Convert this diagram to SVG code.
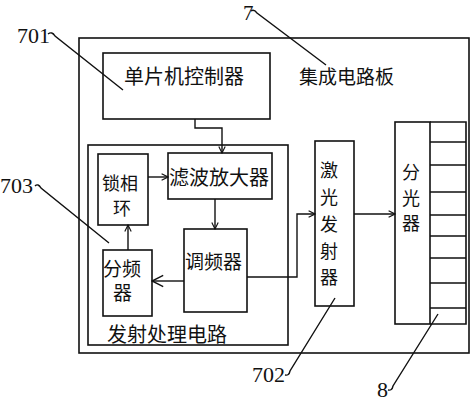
<svg xmlns="http://www.w3.org/2000/svg" width="474" height="402" viewBox="0 0 474 402">
<defs>
<style>
.b{fill:none;stroke:#111;stroke-width:1.6}
.l{fill:none;stroke:#111;stroke-width:1.4}
.t{font-family:"Liberation Serif","Noto Sans CJK SC",serif;font-size:19px;fill:#111}
.n{font-family:"Liberation Serif","Noto Sans CJK SC",serif;font-size:22px;fill:#111}
</style>
<marker id="a" viewBox="0 0 10 10" refX="9" refY="5" markerWidth="8" markerHeight="8" orient="auto" markerUnits="userSpaceOnUse">
<path d="M1,1 L9,5 L1,9" fill="none" stroke="#111" stroke-width="1.4"/>
</marker>
<marker id="a2" viewBox="0 0 10 10" refX="9" refY="5" markerWidth="14" markerHeight="14" orient="auto" markerUnits="userSpaceOnUse">
<path d="M1,1 L9,5 L1,9" fill="none" stroke="#111" stroke-width="1"/>
</marker>
</defs>
<rect width="474" height="402" fill="#fff"/>
<g id="board">
<rect class="b" x="79" y="38" width="390" height="315"/>
<text class="t" x="299" y="84">集成电路板</text>
</g>
<g id="controller">
<rect class="b" x="103" y="53" width="167" height="66"/>
<text class="t" x="124" y="84" style="font-size:20px">单片机控制器</text>
</g>
<g id="tx-circuit">
<rect class="b" x="88" y="145" width="200" height="200"/>
<text class="t" x="107" y="342" style="font-size:20px">发射处理电路</text>
</g>
<g id="pll">
<rect class="b" x="98" y="154" width="50" height="71"/>
<text class="t" x="102" y="190" style="font-size:18px">锁相</text>
<text class="t" x="113" y="215" style="font-size:18px">环</text>
</g>
<g id="filter">
<rect class="b" x="168" y="153" width="104" height="46"/>
<text class="t" x="169" y="185" style="font-size:20px">滤波放大器</text>
</g>
<g id="fm">
<rect class="b" x="184" y="229" width="63" height="83"/>
<text class="t" x="185" y="269">调频器</text>
</g>
<g id="divider">
<rect class="b" x="103" y="250" width="49" height="66"/>
<text class="t" x="103" y="276">分频</text>
<text class="t" x="113" y="300">器</text>
</g>
<g id="laser">
<rect class="b" x="315" y="141" width="39" height="165"/>
<g class="t" text-anchor="middle" style="font-size:18px">
<text x="329" y="177">激</text>
<text x="329" y="204">光</text>
<text x="329" y="231">发</text>
<text x="329" y="258">射</text>
<text x="329" y="284">器</text>
</g>
</g>
<g id="splitter">
<rect class="b" x="395" y="122" width="35" height="202"/>
<g class="t" text-anchor="middle" style="font-size:18px">
<text x="411" y="179">分</text>
<text x="411" y="205">光</text>
<text x="411" y="230">器</text>
</g>
</g>
<g id="fibers">
<path class="b" d="M430,122 H466 V324 H430"/>
<path class="l" d="M430,142 H466 M430,165 H466 M430,192 H466 M430,215 H466 M430,236 H466 M430,258 H466 M430,283 H466 M430,308 H466"/>
</g>
<g id="connectors">
<path class="l" d="M195,119 V128 H222 V153" marker-end="url(#a)"/>
<path class="l" d="M148,177 H168" marker-end="url(#a)"/>
<path class="l" d="M215,199 V229" marker-end="url(#a)"/>
<path class="l" d="M184,281 H152" marker-end="url(#a2)"/>
<path class="l" d="M128,250 V225" marker-end="url(#a)"/>
<path class="l" d="M247,277 H297 V214 H315" marker-end="url(#a)"/>
<path class="l" d="M354,214 H395" marker-end="url(#a)"/>
</g>
<g id="labels">
<text class="n" x="17" y="43">701</text>
<path class="l" d="M48,34 Q52,31 55,36 L123,90"/>
<text class="n" x="243" y="20" style="font-size:21px">7</text>
<path class="l" d="M251,11 Q254,9 257,13 L326,65"/>
<text class="n" x="0" y="193">703</text>
<path class="l" d="M35,186 Q38,183 41,188 L109,243"/>
<text class="n" x="252" y="382">702</text>
<path class="l" d="M285,375 Q289,376 290,371 L335,298"/>
<text class="n" x="377" y="397">8</text>
<path class="l" d="M388,390 Q392,391 393,386 L438,314"/>
</g>
</svg>
